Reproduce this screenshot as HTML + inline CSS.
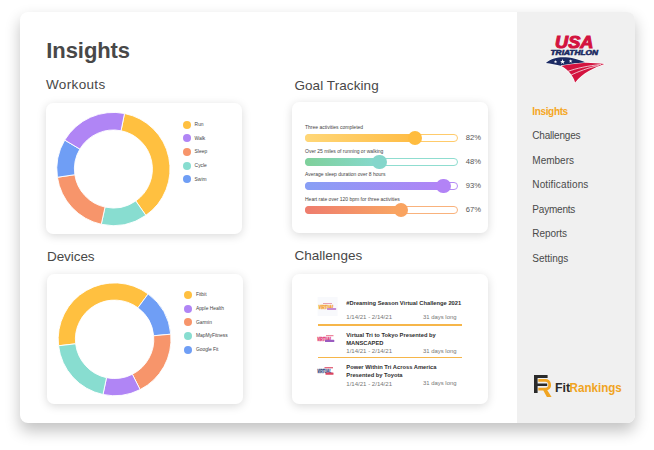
<!DOCTYPE html>
<html lang="en">
<head>
<meta charset="utf-8">
<title>Insights</title>
<style>
*{box-sizing:border-box;margin:0;padding:0}
html,body{width:654px;height:450px;background:#fff;overflow:hidden}
body{font-family:"Liberation Sans",sans-serif;color:#444;position:relative}
.abs{position:absolute}
#app{position:absolute;left:19.5px;top:12px;width:615.5px;height:410.5px;border-radius:8px;background:#fff;
 box-shadow:0 7.5px 15px rgba(0,0,0,.24);overflow:hidden}
#side{position:absolute;left:497.5px;top:0;width:118px;height:100%;background:#f0f0f0}
.card{position:absolute;width:196px;height:130.5px;border-radius:7px;background:#fff;box-shadow:0 2px 10px rgba(0,0,0,.15)}
h1{position:absolute;left:46.3px;top:35.8px;font-size:22px;line-height:30px;font-weight:700;color:#484848;letter-spacing:-.08px;white-space:nowrap}
h2{position:absolute;font-size:13.5px;line-height:18px;font-weight:400;color:#484848;white-space:nowrap;letter-spacing:.2px}
.lg{position:absolute;font-size:4.9px;line-height:8px;color:#444;white-space:nowrap}
.dot{position:absolute;width:8px;height:8px;border-radius:50%}
.nav{position:absolute;left:532.3px;font-size:10px;line-height:14px;color:#4a4a4a;white-space:nowrap;letter-spacing:-.2px}
.bar{position:absolute;left:304.5px;width:153px;height:7.5px;border-radius:4px;border:.8px solid;background:#fff}
.fill{position:absolute;left:304.5px;height:7.5px;border-radius:4px 0 0 4px}
.knob{position:absolute;width:14.5px;height:14.5px;border-radius:50%}
.gl{position:absolute;left:305px;font-size:5px;line-height:7px;color:#444;white-space:nowrap}
.pc{position:absolute;left:465.7px;font-size:7.6px;line-height:10px;color:#555;white-space:nowrap}
.ct{position:absolute;left:346.3px;font-size:5.77px;line-height:7.9px;font-weight:700;color:#2e2e2e;white-space:nowrap}
.cd{position:absolute;font-size:6.05px;line-height:7px;color:#777;white-space:nowrap}
.hr{position:absolute;left:318px;width:143.7px;height:1.4px;background:#F6B64A}
</style>
</head>
<body>
<div id="app"><div id="side"></div></div>

<h1>Insights</h1>
<h2 style="left:46px;top:76.3px;letter-spacing:.35px">Workouts</h2>
<h2 style="left:294.4px;top:76.5px;letter-spacing:.08px">Goal Tracking</h2>
<h2 style="left:47px;top:247.8px;letter-spacing:-.07px">Devices</h2>
<h2 style="left:294.4px;top:247px;letter-spacing:.03px">Challenges</h2>

<div class="card" style="left:46px;top:103px"></div>
<div class="card" style="left:47px;top:273.5px"></div>
<div class="card" style="left:292px;top:102px"></div>
<div class="card" style="left:292.1px;top:273.5px"></div>

<!-- donuts + logos -->
<svg class="abs" style="left:0;top:0" width="654" height="450" viewBox="0 0 654 450">
<path d="M124.49 113.50A56.6 56.6 0 0 1 145.86 215.36L135.77 200.95A39 39 0 0 0 121.04 130.76Z" fill="#FFC040" stroke="#fff" stroke-width="0.9" stroke-linejoin="round"/>
<path d="M145.86 215.36A56.6 56.6 0 0 1 101.25 224.28L105.03 207.09A39 39 0 0 0 135.77 200.95Z" fill="#88DDD0" stroke="#fff" stroke-width="0.9" stroke-linejoin="round"/>
<path d="M101.25 224.28A56.6 56.6 0 0 1 57.41 177.27L74.82 174.70A39 39 0 0 0 105.03 207.09Z" fill="#F7956B" stroke="#fff" stroke-width="0.9" stroke-linejoin="round"/>
<path d="M57.41 177.27A56.6 56.6 0 0 1 64.73 140.10L79.87 149.09A39 39 0 0 0 74.82 174.70Z" fill="#6F9EF5" stroke="#fff" stroke-width="0.9" stroke-linejoin="round"/>
<path d="M64.73 140.10A56.6 56.6 0 0 1 124.49 113.50L121.04 130.76A39 39 0 0 0 79.87 149.09Z" fill="#B085F5" stroke="#fff" stroke-width="0.9" stroke-linejoin="round"/>
<path d="M58.57 345.78A56.4 56.4 0 0 1 148.15 293.96L137.92 307.79A39.2 39.2 0 0 0 75.66 343.81Z" fill="#FFC040" stroke="#fff" stroke-width="0.9" stroke-linejoin="round"/>
<path d="M148.15 293.96A56.4 56.4 0 0 1 170.77 334.19L153.64 335.75A39.2 39.2 0 0 0 137.92 307.79Z" fill="#6F9EF5" stroke="#fff" stroke-width="0.9" stroke-linejoin="round"/>
<path d="M170.77 334.19A56.4 56.4 0 0 1 140.12 389.60L132.34 374.26A39.2 39.2 0 0 0 153.64 335.75Z" fill="#F7956B" stroke="#fff" stroke-width="0.9" stroke-linejoin="round"/>
<path d="M140.12 389.60A56.4 56.4 0 0 1 102.97 394.49L106.52 377.66A39.2 39.2 0 0 0 132.34 374.26Z" fill="#B085F5" stroke="#fff" stroke-width="0.9" stroke-linejoin="round"/>
<path d="M102.97 394.49A56.4 56.4 0 0 1 58.57 345.78L75.66 343.81A39.2 39.2 0 0 0 106.52 377.66Z" fill="#88DDD0" stroke="#fff" stroke-width="0.9" stroke-linejoin="round"/>
<!-- USA Triathlon logo -->
<g transform="translate(540,52) scale(0.10703)">
<path d="M55 103C110 55 180 45 240 50C320 56 390 80 428 101C350 108 270 118 200 130C150 120 100 110 55 103Z" fill="#1B2A62" stroke="#fdfdfd" stroke-width="11" paint-order="stroke" stroke-linejoin="round"/>
<path d="M200 130C280 116 370 106 430 101C490 102 545 106 600 112C505 146 400 195 328 284C312 222 265 168 200 130Z" fill="#D3133F" stroke="#fdfdfd" stroke-width="11" paint-order="stroke" stroke-linejoin="round"/>
<path d="M572 116C450 128 340 152 258 182M548 126C450 148 352 184 290 216" fill="none" stroke="#f6f6f6" stroke-width="7"/>
<path id="st" d="M0 -10L2.4 -3.2L9.5 -3.1L3.8 1.2L5.9 8.1L0 4L-5.9 8.1L-3.8 1.2L-9.5 -3.1L-2.4 -3.2Z" transform="translate(145,91) scale(1.7)" fill="#fff"/>
<path d="M0 -10L2.4 -3.2L9.5 -3.1L3.8 1.2L5.9 8.1L0 4L-5.9 8.1L-3.8 1.2L-9.5 -3.1L-2.4 -3.2Z" transform="translate(211,91) scale(2.5)" fill="#fff"/>
<path d="M0 -10L2.4 -3.2L9.5 -3.1L3.8 1.2L5.9 8.1L0 4L-5.9 8.1L-3.8 1.2L-9.5 -3.1L-2.4 -3.2Z" transform="translate(286,86) scale(1.8)" fill="#fff"/>
</g>
<text x="555" y="47.5" font-family="Liberation Sans, sans-serif" font-weight="700" font-style="italic" font-size="15.8" fill="#D3133F" stroke="#D3133F" stroke-width="1" textLength="38.4" lengthAdjust="spacingAndGlyphs">USA</text>
<text x="550.5" y="55.4" font-family="Liberation Sans, sans-serif" font-weight="700" font-style="italic" font-size="6.9" fill="#1B2A62" stroke="#1B2A62" stroke-width=".55" textLength="47.6" lengthAdjust="spacingAndGlyphs">TRIATHLON</text>
<!-- FitRankings logo -->
<path d="M534 375H547.6V377.9H537.6V383.5H547.2V386.1H537.6V392.9H534Z" fill="#2A2A2A"/>
<path d="M538.3 378.9H545.25A5.85 5.85 0 0 1 547.3 390.2L551.6 396.9H546.9L543.3 390.6H538.3V387.8H545.25A3.05 3.05 0 0 0 545.25 381.7H538.3Z" fill="#F0A422"/>
<text x="555" y="392.3" font-family="Liberation Sans, sans-serif" font-weight="700" font-size="13.7" fill="#2A2A2A" textLength="15.2" lengthAdjust="spacingAndGlyphs">Fit</text>
<text x="569.6" y="392.3" font-family="Liberation Sans, sans-serif" font-weight="700" font-size="13.7" fill="#F0A422" textLength="52.2" lengthAdjust="spacingAndGlyphs">Rankings</text>
<!-- challenge thumbnails -->
<rect x="317.6" y="297" width="20" height="19" fill="#f8f9fc"/>
<g font-family="Liberation Sans, sans-serif" font-weight="700" font-style="italic" font-size="5.2" stroke-width=".5">
<text x="318.6" y="308.6" fill="#F4A83F" stroke="#F4A83F" textLength="15.5" lengthAdjust="spacingAndGlyphs">VIRTUAL</text>
<rect x="327" y="308" width="9.2" height="1.9" rx=".6" fill="#C78BD0"/>
<rect x="323" y="303" width="9" height="1" fill="#E7A0B0"/>
<text x="317.2" y="340.6" fill="#E4477F" stroke="#E4477F" textLength="14.5" lengthAdjust="spacingAndGlyphs">VIRTUAL</text>
<rect x="325" y="339.8" width="9.3" height="2.2" rx=".6" fill="#9A5CC0"/>
<rect x="326" y="335.2" width="7.5" height="1" fill="#EA6C86"/>
<text x="317.2" y="372.6" fill="#33457C" stroke="#33457C" stroke-width=".3" textLength="14" lengthAdjust="spacingAndGlyphs">VIRTUAL</text>
<rect x="324.5" y="367.2" width="8.5" height="1.1" fill="#DB4560"/>
<rect x="325.5" y="372.6" width="8" height="2.2" rx=".5" fill="#DB4560"/>
</g>

</svg>

<!-- Workouts legend -->
<div class="dot" style="left:182.9px;top:120.6px;background:#FFC040"></div><div class="lg" style="left:194.6px;top:121px">Run</div>
<div class="dot" style="left:182.9px;top:134.2px;background:#B085F5"></div><div class="lg" style="left:194.6px;top:134.6px">Walk</div>
<div class="dot" style="left:182.9px;top:147.9px;background:#F7956B"></div><div class="lg" style="left:194.6px;top:148.3px">Sleep</div>
<div class="dot" style="left:182.9px;top:161.5px;background:#88DDD0"></div><div class="lg" style="left:194.6px;top:161.9px">Cycle</div>
<div class="dot" style="left:182.9px;top:175.3px;background:#6F9EF5"></div><div class="lg" style="left:194.6px;top:175.7px">Swim</div>

<!-- Devices legend -->
<div class="dot" style="left:184.1px;top:290.9px;background:#FFC040"></div><div class="lg" style="left:195.9px;top:291.3px">Fitbit</div>
<div class="dot" style="left:184.1px;top:304.5px;background:#B085F5"></div><div class="lg" style="left:195.9px;top:304.9px">Apple Health</div>
<div class="dot" style="left:184.1px;top:318.3px;background:#F7956B"></div><div class="lg" style="left:195.9px;top:318.7px">Garmin</div>
<div class="dot" style="left:184.1px;top:331.8px;background:#88DDD0"></div><div class="lg" style="left:195.9px;top:332.2px">MapMyFitness</div>
<div class="dot" style="left:184.1px;top:345.7px;background:#6F9EF5"></div><div class="lg" style="left:195.9px;top:346.1px">Google Fit</div>

<!-- Goal tracking -->
<div class="gl" style="top:124.3px">Three activities completed</div>
<div class="bar" style="top:134px;border-color:#FFCB6B"></div>
<div class="fill" style="top:134px;width:110px;background:linear-gradient(90deg,#FFD778,#FFBC45)"></div>
<div class="knob" style="left:407.7px;top:130.5px;background:#FFBC3F"></div>
<div class="pc" style="top:133px">82%</div>

<div class="gl" style="top:147.7px">Over 25 miles of running or walking</div>
<div class="bar" style="top:158px;border-color:#8FDDD0"></div>
<div class="fill" style="top:158px;width:75px;background:linear-gradient(90deg,#7FD09A,#86D9CF)"></div>
<div class="knob" style="left:372px;top:154.5px;background:#84D6CB"></div>
<div class="pc" style="top:157px">48%</div>

<div class="gl" style="top:171px">Average sleep duration over 8 hours</div>
<div class="bar" style="top:182px;border-color:#B58BF5"></div>
<div class="fill" style="top:182px;width:140px;background:linear-gradient(90deg,#879FF5,#B283F6)"></div>
<div class="knob" style="left:436.4px;top:178.5px;background:#B283F6"></div>
<div class="pc" style="top:181px">93%</div>

<div class="gl" style="top:195.6px">Heart rate over 120 bpm for three activities</div>
<div class="bar" style="top:206.2px;border-color:#F9B27C"></div>
<div class="fill" style="top:206.2px;width:97px;background:linear-gradient(90deg,#EE7C6E,#F9A762)"></div>
<div class="knob" style="left:393.9px;top:202.7px;background:#F9A360"></div>
<div class="pc" style="top:205.2px">67%</div>

<!-- Challenges -->
<div class="ct" style="top:299.8px">#Dreaming Season Virtual Challenge 2021</div>
<div class="cd" style="left:346.3px;top:313.7px">1/14/21 - 2/14/21</div>
<div class="cd" style="left:423px;top:313.7px;font-size:5.92px">31 days long</div>
<div class="hr" style="top:324.2px"></div>

<div class="ct" style="top:331.9px">Virtual Tri to Tokyo Presented by<br>MANSCAPED</div>
<div class="cd" style="left:346.3px;top:347.5px">1/14/21 - 2/14/21</div>
<div class="cd" style="left:423px;top:347.5px;font-size:5.92px">31 days long</div>
<div class="hr" style="top:356.9px"></div>

<div class="ct" style="top:363.8px">Power Within Tri Across America<br>Presented by Toyota</div>
<div class="cd" style="left:346.3px;top:381.3px">1/14/21 - 2/14/21</div>
<div class="cd" style="left:423px;top:379.7px;font-size:5.92px">31 days long</div>

<!-- Nav -->
<div class="nav" style="top:104.5px;font-weight:700;color:#F5A623;letter-spacing:-.35px">Insights</div>
<div class="nav" style="top:129px">Challenges</div>
<div class="nav" style="top:153.5px;letter-spacing:0">Members</div>
<div class="nav" style="top:178px;letter-spacing:.13px">Notifications</div>
<div class="nav" style="top:202.5px">Payments</div>
<div class="nav" style="top:227px;letter-spacing:-.07px">Reports</div>
<div class="nav" style="top:251.5px;letter-spacing:-.03px">Settings</div>

</body>
</html>
